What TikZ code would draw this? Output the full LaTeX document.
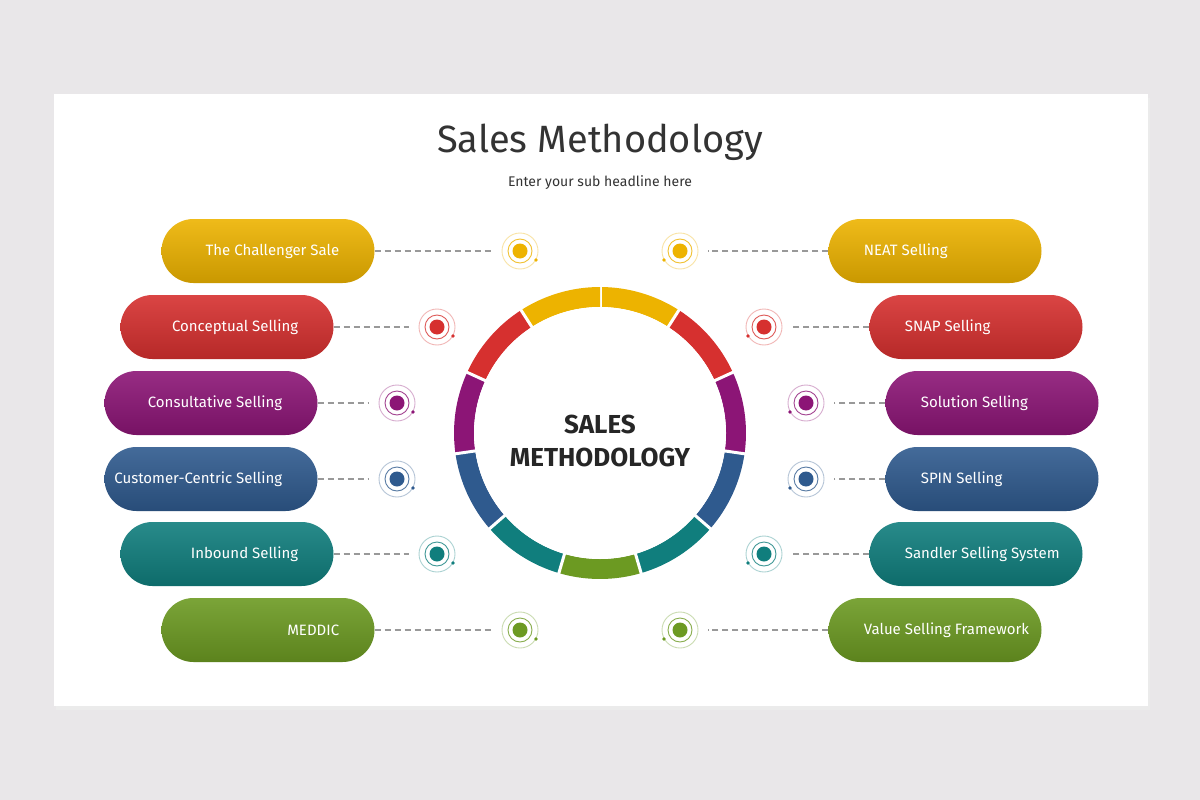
\documentclass[tikz,border=0pt]{standalone}
\usepackage{fontspec}
\setmainfont{Fira Sans}
\usetikzlibrary{calc}
\definecolor{bg}{HTML}{E9E7E9}
\definecolor{cY}{HTML}{EDB300}
\definecolor{cR}{HTML}{D6302F}
\definecolor{cP}{HTML}{8C1576}
\definecolor{cB}{HTML}{2F5A8E}
\definecolor{cT}{HTML}{107E7D}
\definecolor{cG}{HTML}{6C9A22}
\definecolor{txt}{HTML}{333333}
\tikzset{
  pill/.style={rounded corners=32pt, minimum width=213pt, minimum height=64pt, inner sep=0pt},
  ptext/.style={text=white, font=\fontsize{15}{18}\selectfont},
  dash/.style={},
  conn/.style={draw=gray!80, dashed, line width=1.2pt, dash pattern=on 6pt off 4pt},
}
\begin{document}
\begin{tikzpicture}[x=1pt,y=-1pt]
\useasboundingbox (0,0) rectangle (1200,800);
\fill[bg] (0,0) rectangle (1200,800);
\fill[black!8] (56,98) rectangle (1150,710);
\fill[white] (54,94) rectangle (1148,706);
\node[text=txt, font=\fontsize{38}{44}\selectfont] (title) at (600,142) {Sales Methodology};
\node[text=txt, font=\fontsize{14}{16}\selectfont] (sub) at (600,183) {Enter your sub headline here};
% ring
\def\cx{600}\def\cy{433}
\foreach \i/\c in {0/cY,1/cR,2/cP,3/cB,4/cT,5/cG,6/cT,7/cB,8/cP,9/cR,10/cY}{
  \pgfmathsetmacro{\a}{90-\i*360/11}
  \pgfmathsetmacro{\b}{\a-360/11}
  \fill[\c] ($(\cx,\cy)+({cos(\a)*146},{-sin(\a)*146})$) arc[start angle=-\a, end angle=-\b, radius=146]
    -- ($(\cx,\cy)+({cos(\b)*126},{-sin(\b)*126})$) arc[start angle=-\b, end angle=-\a, radius=126] -- cycle;
  \draw[white, line width=3pt] ($(\cx,\cy)+({cos(\a)*124},{-sin(\a)*124})$) -- ($(\cx,\cy)+({cos(\a)*148},{-sin(\a)*148})$);
}
\node[circle, fill=white, minimum size=252pt] (hub) at (\cx,\cy) {};
\node[align=center, text=black!85, font=\bfseries\fontsize{26}{33}\selectfont] (hubt) at (\cx,441) {SALES\\METHODOLOGY};
% items
\foreach \n/\lx/\ix/\ry/\rix/\y/\c/\lt/\rt in {
  1/268/520/935/680/251/cY/{The Challenger Sale}/{NEAT Selling},
  2/227/437/976/764/327/cR/{Conceptual Selling}/{SNAP Selling},
  3/211/397/992/806/403/cP/{Consultative Selling}/{Solution Selling},
  4/211/397/992/806/479/cB/{Customer-Centric Selling}/{SPIN Selling},
  5/227/437/976/764/554/cT/{Inbound Selling}/{Sandler Selling System},
  6/268/520/935/680/630/cG/{MEDDIC}/{Value Selling Framework}}{
  \node[pill, top color=\c!90!white, bottom color=\c!85!black, drop shadow/.style={}] (L\n) at (\lx,\y) {};
  \node[ptext, anchor=east] (LT\n) at ($(L\n.east)+(-32,0)$) {\lt};
  \node[pill, top color=\c!90!white, bottom color=\c!85!black] (R\n) at (\ry,\y) {};
  \node[ptext, anchor=west] (RT\n) at ($(R\n.west)+(32,0)$) {\rt};
  \foreach \s/\xx/\dd in {LI/\ix/1,RI/\rix/-1}{
    \node[circle, fill=\c, minimum size=15pt, inner sep=0pt] (\s\n) at (\xx,\y) {};
    \draw[\c!80, line width=0.9pt] (\xx,\y) circle (12);
    \draw[\c!35, line width=0.9pt] (\xx,\y) circle (18);
    \fill[\c] ($(\xx,\y)+(\dd*16,9)$) circle (1.8);
  }
  \draw[conn] (L\n.east) -- ($(LI\n.west)+(-20,0)$) coordinate (la\n);
  \draw[conn] (R\n.west) -- ($(RI\n.east)+(20,0)$) coordinate (ra\n);
}
\end{tikzpicture}
\end{document}
